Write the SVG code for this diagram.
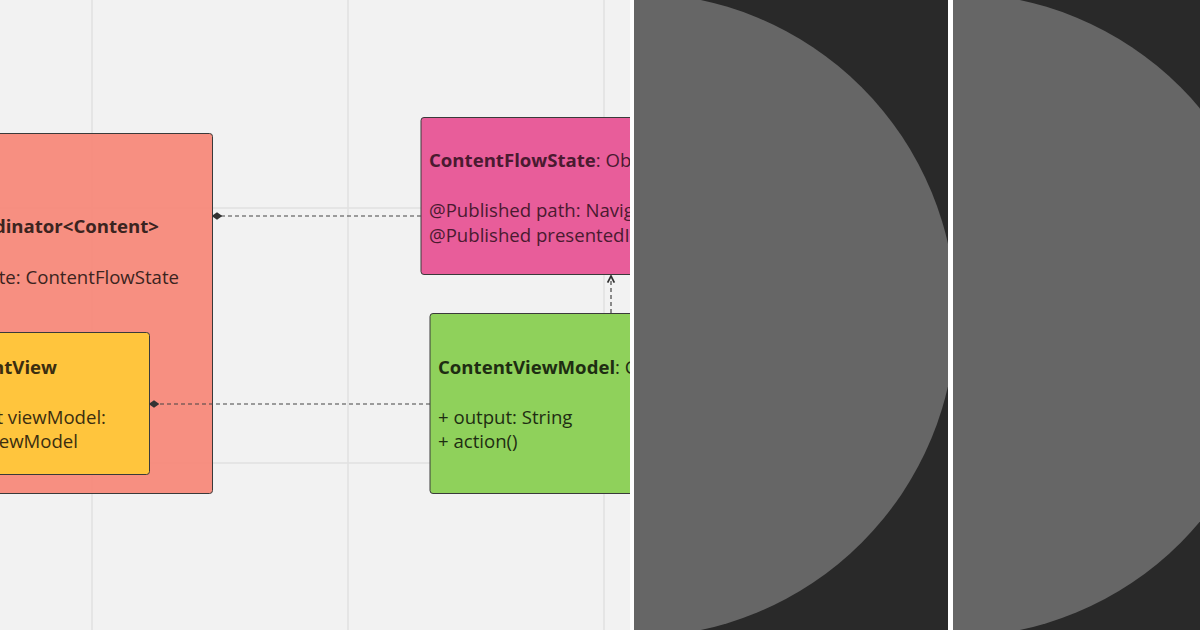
<svg xmlns="http://www.w3.org/2000/svg" width="1200" height="630" viewBox="0 0 1200 630">
<defs>
<style>
.t{font-family:"Open Sans","Noto Sans",sans-serif;font-size:18.6px}
.b{font-weight:bold}
.grid{stroke:#e1e1e1;stroke-width:1.5}
.box{stroke:#3a3a3a;stroke-width:1}
.conn{stroke:#444;stroke-width:1.2;stroke-dasharray:4 3;fill:none}
</style>
<clipPath id="lp"><rect x="0" y="0" width="630" height="630"/></clipPath>
<clipPath id="p1"><rect x="634" y="0" width="314" height="630"/></clipPath>
<clipPath id="p2"><rect x="953" y="0" width="247" height="630"/></clipPath>
<marker id="dia" viewBox="0 0 10 10" refX="5" refY="5" markerWidth="9" markerHeight="9" orient="auto"><path d="M0,5 L5,1.5 L10,5 L5,8.5 Z" fill="#333"/></marker>
<marker id="arr" viewBox="0 0 10 10" refX="9" refY="5" markerWidth="8" markerHeight="8" orient="auto"><path d="M2,1.5 L9,5 L2,8.5" fill="none" stroke="#333" stroke-width="1.8"/></marker>
</defs>
<rect width="1200" height="630" fill="#ffffff"/>
<g clip-path="url(#lp)">
<rect x="0" y="0" width="630" height="630" fill="#f2f2f2"/>
<g id="grid">
<line class="grid" x1="92" y1="0" x2="92" y2="630"/>
<line class="grid" x1="348" y1="0" x2="348" y2="630"/>
<line class="grid" x1="604" y1="0" x2="604" y2="630"/>
<line class="grid" x1="0" y1="208" x2="630" y2="208"/>
<line class="grid" x1="0" y1="463" x2="630" y2="463"/>
</g>
<g id="coordinator">
<rect class="box" x="-10" y="133.5" width="222.5" height="360" rx="3" fill="#f7897a" fill-opacity="0.95"/>
<text class="t b" x="159" y="233" text-anchor="end" fill="#3b2420">dinator&lt;Content&gt;</text>
<text class="t" x="179" y="284" text-anchor="end" fill="#3b2420">te: ContentFlowState</text>
</g>
<g id="contentview">
<rect class="box" x="-10" y="332.5" width="159.5" height="142" rx="3" fill="#ffc53d"/>
<text class="t b" x="57" y="374" text-anchor="end" fill="#3b2e10">ntView</text>
<text class="t" x="106" y="424" text-anchor="end" fill="#3b2e10">t viewModel:</text>
<text class="t" x="78" y="448" text-anchor="end" fill="#3b2e10">ewModel</text>
</g>
<g id="flowstate">
<rect class="box" x="421" y="117.5" width="220" height="157" rx="3" fill="#e85d9a"/>
<text class="t" x="429" y="167" fill="#4a1a30"><tspan class="b">ContentFlowState</tspan>: Ob</text>
<text class="t" x="429" y="217" fill="#4a1a30">@Published path: Navig</text>
<text class="t" x="429" y="242" fill="#4a1a30">@Published presentedIt</text>
</g>
<g id="viewmodel">
<rect class="box" x="430" y="313.5" width="211" height="180" rx="3" fill="#8fd15b"/>
<text class="t" x="438" y="374" fill="#1e2d12"><tspan class="b">ContentViewModel</tspan>: C</text>
<text class="t" x="438" y="424" fill="#1e2d12">+ output: String</text>
<text class="t" x="438" y="448" fill="#1e2d12">+ action()</text>
</g>
<g id="connectors">
<path class="conn" d="M421,216 L217,216" marker-end="url(#dia)"/>
<path class="conn" d="M430,404 L154,404" marker-end="url(#dia)"/>
<path class="conn" d="M611,313 L611,276" marker-end="url(#arr)"/>
</g>
</g>
<g id="panel1" clip-path="url(#p1)">
<rect x="634" y="0" width="314" height="630" fill="#292929"/>
<circle cx="634" cy="315" r="322" fill="#666666"/>
</g>
<g id="panel2" clip-path="url(#p2)">
<rect x="953" y="0" width="247" height="630" fill="#292929"/>
<circle cx="953" cy="315" r="322" fill="#666666"/>
</g>
</svg>
